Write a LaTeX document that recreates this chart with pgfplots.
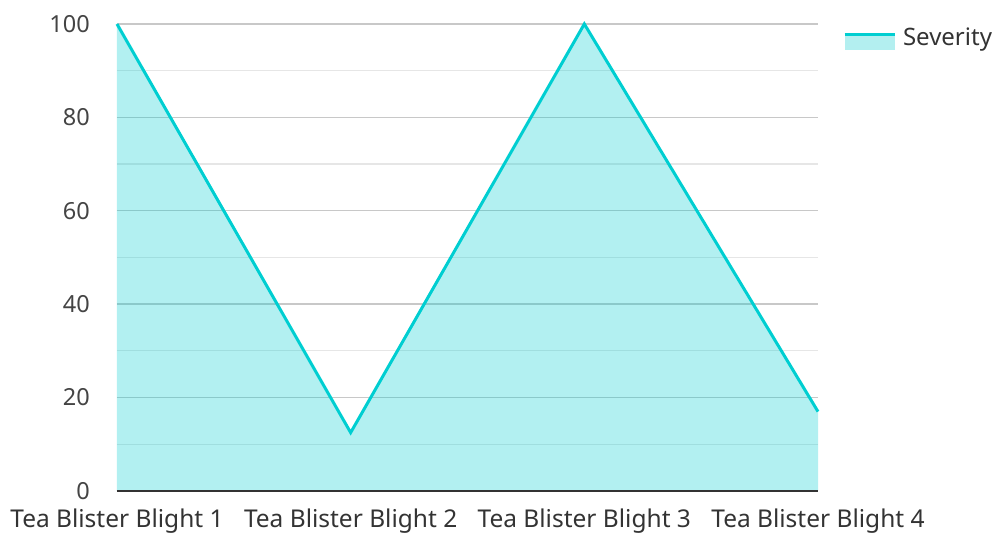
\documentclass[border=0pt]{standalone}
\usepackage{pgfplots}
\pgfplotsset{compat=1.18}
\usepackage{fontspec}
\setmainfont{Noto Sans}
\definecolor{dtq}{RGB}{0,206,209}
\definecolor{dtqfill}{RGB}{179,239,240}
\definecolor{majgrid}{RGB}{200,200,200}
\definecolor{mingrid}{RGB}{230,230,230}
\definecolor{txtx}{RGB}{51,51,51}
\definecolor{txty}{RGB}{68,68,68}
\begin{document}
\begin{tikzpicture}
\useasboundingbox (-117pt,-43pt) rectangle (880pt,491pt);
\begin{axis}[
  at={(0pt,0pt)}, anchor=south west,
  scale only axis, width=701pt, height=467pt,
  xmin=0, xmax=3, ymin=0, ymax=100,
  xtick={0,1,2,3},
  xticklabels={Tea Blister Blight 1,Tea Blister Blight 2,Tea Blister Blight 3,Tea Blister Blight 4},
  ytick={0,20,40,60,80,100},
  minor ytick={10,30,50,70,90},
  ymajorgrids, yminorgrids,
  major grid style={majgrid, line width=1.4pt},
  minor grid style={mingrid, line width=1.2pt},
  major tick length=0pt, minor tick length=0pt,
  axis x line*=bottom, axis y line*=left,
  x axis line style={draw=none},
  y axis line style={draw=none},
  /pgf/number format/assume math mode=true,
  yticklabel style={font=\fontsize{23.5}{27}\selectfont},
  xticklabel style={font=\fontsize{24.5}{28}\selectfont},
  xticklabel style={txtx, inner sep=0pt, anchor=north, yshift=-18pt},
  yticklabel style={txty, inner sep=0pt, anchor=east, xshift=-27pt},
  clip=false,
  legend style={at={(1.0357,0.9686)}, anchor=west, draw=none, fill=none,
    inner sep=0pt, outer sep=0pt, font=\fontsize{24}{28}\selectfont\color{txtx},
    nodes={inner sep=0pt}, column sep=0pt},
  legend cell align=left,
  legend image code/.code={
    \path[fill=dtqfill, draw=none] (0pt,-12.5pt) rectangle (50pt,1.5pt);
    \path[draw=dtq, line width=3pt] (0pt,3pt) -- (50pt,3pt);
    \path (57pt,0pt);
  },
  after end axis/.code={
    \draw[txtx, line width=1.6pt] (rel axis cs:0,0) -- (rel axis cs:1,0);
  },
]
\addplot[draw=none, fill=dtq, fill opacity=0.3, forget plot] coordinates {(0,100) (1,12.5) (2,100) (3,17)} \closedcycle;
\addplot[dtq, line width=3pt, line join=miter] coordinates {(0,100) (1,12.5) (2,100) (3,17)};
\addlegendentry{Severity}
\end{axis}
\end{tikzpicture}
\end{document}
